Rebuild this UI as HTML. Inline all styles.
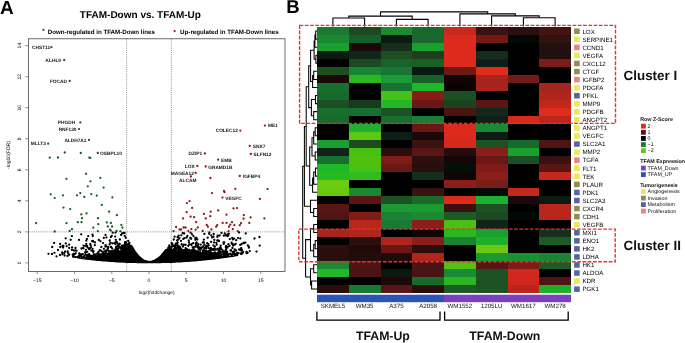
<!DOCTYPE html>
<html><head><meta charset="utf-8"><title>TFAM-Down vs. TFAM-Up</title>
<style>
html,body{margin:0;padding:0;background:#fff;}
body{width:685px;height:343px;overflow:hidden;}
svg{display:block;font-family:"Liberation Sans", Arial, Helvetica, sans-serif;text-rendering:geometricPrecision;}
</style></head><body>
<svg width="685" height="343" viewBox="0 0 685 343">
<rect x="0" y="0" width="685" height="343" fill="#fff"/>
<text x="0" y="14" font-size="19" font-weight="bold">A</text>
<text x="286.3" y="13.3" font-size="18.6" font-weight="bold">B</text>
<text x="140.4" y="18" font-size="10" font-weight="bold" text-anchor="middle">TFAM-Down vs. TFAM-Up</text>
<circle cx="43.4" cy="29.8" r="1.1" fill="#0f5f26"/>
<text x="47.7" y="33.6" font-size="6.2" font-weight="bold">Down-regulated in TFAM-Down lines</text>
<circle cx="174.6" cy="31.1" r="1.1" fill="#8c1a1a"/>
<text x="180.1" y="33.6" font-size="6.2" font-weight="bold">Up-regulated in TFAM-Down lines</text>
<rect x="28.4" y="38.8" width="256.6" height="232.7" fill="none" stroke="#3a3a3a" stroke-width="0.75"/>
<g stroke="#333" stroke-width="0.6" stroke-dasharray="0.8 1.1" fill="none">
<line x1="126.65" y1="38.8" x2="126.65" y2="271.5"/>
<line x1="171.35" y1="38.8" x2="171.35" y2="271.5"/>
<line x1="28.4" y1="231.86" x2="285.0" y2="231.86"/>
</g>
<g stroke="#444" stroke-width="0.6" fill="none">
<line x1="37.25" y1="271.5" x2="37.25" y2="274.1"/>
<line x1="74.50" y1="271.5" x2="74.50" y2="274.1"/>
<line x1="111.75" y1="271.5" x2="111.75" y2="274.1"/>
<line x1="149.00" y1="271.5" x2="149.00" y2="274.1"/>
<line x1="186.25" y1="271.5" x2="186.25" y2="274.1"/>
<line x1="223.50" y1="271.5" x2="223.50" y2="274.1"/>
<line x1="260.75" y1="271.5" x2="260.75" y2="274.1"/>
<line x1="28.4" y1="262.90" x2="25.2" y2="262.90"/>
<line x1="28.4" y1="231.86" x2="25.2" y2="231.86"/>
<line x1="28.4" y1="200.82" x2="25.2" y2="200.82"/>
<line x1="28.4" y1="169.78" x2="25.2" y2="169.78"/>
<line x1="28.4" y1="138.74" x2="25.2" y2="138.74"/>
<line x1="28.4" y1="107.70" x2="25.2" y2="107.70"/>
<line x1="28.4" y1="76.66" x2="25.2" y2="76.66"/>
<line x1="28.4" y1="45.62" x2="25.2" y2="45.62"/>
</g>
<g font-size="5" fill="#000" text-anchor="middle">
<text x="37.25" y="282.3">−15</text>
<text x="74.50" y="282.3">−10</text>
<text x="111.75" y="282.3">−5</text>
<text x="149.00" y="282.3">0</text>
<text x="186.25" y="282.3">5</text>
<text x="223.50" y="282.3">10</text>
<text x="260.75" y="282.3">15</text>
<text transform="translate(20.6 262.90) rotate(-90)">0</text>
<text transform="translate(20.6 231.86) rotate(-90)">2</text>
<text transform="translate(20.6 200.82) rotate(-90)">4</text>
<text transform="translate(20.6 169.78) rotate(-90)">6</text>
<text transform="translate(20.6 138.74) rotate(-90)">8</text>
<text transform="translate(20.6 107.70) rotate(-90)">10</text>
<text transform="translate(20.6 76.66) rotate(-90)">12</text>
<text transform="translate(20.6 45.62) rotate(-90)">14</text>
<text x="156.6" y="294.0" font-size="4.82">log2(foldchange)</text>
<text transform="translate(10.2 155) rotate(-90)" font-size="5.05">-log10(FDR)</text>
</g>
<path d="M149.0 263.3L148.0 263.3L147.0 263.3L146.0 263.3L145.0 263.3L144.0 263.3L143.0 263.3L142.0 263.3L141.0 263.2L140.0 263.2L139.0 263.2L138.0 263.2L137.0 263.2L136.0 263.1L135.0 263.1L134.0 263.1L133.0 263.1L132.0 263.0L131.0 263.0L130.0 263.0L129.0 262.9L128.0 262.9L127.0 262.9L126.0 262.8L125.0 262.8L124.0 262.7L123.0 262.7L122.0 262.6L121.0 262.6L120.0 262.5L119.0 262.5L118.0 262.4L117.0 262.4L116.0 262.3L115.0 262.2L114.0 262.2L113.0 262.1L112.0 262.1L111.0 262.0L110.0 261.9L109.0 261.8L108.0 261.8L107.0 261.7L106.0 261.6L105.0 261.5L104.0 261.5L103.0 261.4L102.0 261.3L101.0 261.2L100.0 261.1L99.0 261.0L98.0 260.9L97.0 260.8L96.0 260.7L95.0 260.6L94.0 260.5L93.0 260.4L92.0 260.3L91.0 260.2L90.0 260.1L89.0 260.0L88.0 259.9L87.0 259.8L86.0 259.7L85.0 259.6L84.0 259.5L83.0 259.3L82.0 259.2L81.0 259.1L80.0 259.0L79.0 258.8L79.0 257.7L80.0 257.8L81.0 257.9L82.0 258.1L83.0 258.2L84.0 258.3L85.0 258.4L86.0 258.5L87.0 258.7L88.0 258.7L89.0 258.6L90.0 258.5L91.0 258.4L92.0 258.2L93.0 258.1L94.0 258.0L95.0 257.8L96.0 257.7L97.0 257.5L98.0 257.2L99.0 256.9L100.0 256.7L101.0 256.4L102.0 256.1L103.0 255.8L104.0 255.5L105.0 255.3L106.0 255.0L107.0 254.7L108.0 254.4L109.0 254.1L110.0 253.8L111.0 253.5L112.0 253.2L113.0 252.9L114.0 252.6L115.0 252.2L116.0 251.9L117.0 251.5L118.0 251.1L119.0 250.7L120.0 250.3L121.0 249.9L122.0 249.5L123.0 248.9L124.0 248.3L125.0 247.7L126.0 247.1L127.0 246.5L128.0 245.9L129.0 245.3L130.0 245.3L131.0 245.3L132.0 245.2L133.0 246.5L134.0 248.3L135.0 249.9L136.0 251.4L137.0 252.8L138.0 254.1L139.0 255.3L140.0 256.3L141.0 257.3L142.0 258.1L143.0 258.8L144.0 259.5L145.0 260.0L146.0 260.3L147.0 260.6L148.0 260.8L149.0 260.9ZM149.0 263.3L150.0 263.3L151.0 263.3L152.0 263.3L153.0 263.3L154.0 263.3L155.0 263.3L156.0 263.3L157.0 263.2L158.0 263.2L159.0 263.2L160.0 263.2L161.0 263.2L162.0 263.1L163.0 263.1L164.0 263.1L165.0 263.1L166.0 263.0L167.0 263.0L168.0 263.0L169.0 262.9L170.0 262.9L171.0 262.9L172.0 262.8L173.0 262.8L174.0 262.7L175.0 262.7L176.0 262.6L177.0 262.6L178.0 262.5L179.0 262.5L180.0 262.4L181.0 262.4L182.0 262.3L183.0 262.2L184.0 262.2L185.0 262.1L186.0 262.1L187.0 262.0L188.0 261.9L189.0 261.8L190.0 261.8L191.0 261.7L192.0 261.6L193.0 261.5L194.0 261.5L195.0 261.4L196.0 261.3L197.0 261.2L198.0 261.1L199.0 261.0L200.0 260.9L201.0 260.8L202.0 260.7L203.0 260.6L204.0 260.5L205.0 260.4L206.0 260.3L207.0 260.2L208.0 260.1L209.0 260.0L210.0 259.9L211.0 259.8L212.0 259.7L213.0 259.6L214.0 259.5L215.0 259.3L216.0 259.2L217.0 259.1L218.0 259.0L219.0 258.8L220.0 258.7L221.0 258.6L222.0 258.5L223.0 258.3L224.0 258.2L225.0 258.0L226.0 257.9L227.0 257.8L228.0 257.6L229.0 257.5L230.0 257.3L231.0 257.2L232.0 257.0L233.0 256.9L234.0 256.7L234.0 255.6L233.0 255.7L232.0 255.9L231.0 256.0L230.0 256.1L229.0 256.0L228.0 256.0L227.0 256.0L226.0 255.9L225.0 255.9L224.0 255.8L223.0 255.7L222.0 255.6L221.0 255.5L220.0 255.5L219.0 255.4L218.0 255.3L217.0 255.2L216.0 255.1L215.0 255.1L214.0 255.0L213.0 255.0L212.0 255.0L211.0 255.0L210.0 255.0L209.0 255.0L208.0 254.9L207.0 254.9L206.0 254.9L205.0 254.8L204.0 254.8L203.0 254.8L202.0 254.8L201.0 254.7L200.0 254.7L199.0 254.6L198.0 254.6L197.0 254.6L196.0 254.4L195.0 254.3L194.0 254.2L193.0 254.0L192.0 253.9L191.0 253.7L190.0 253.6L189.0 253.4L188.0 253.3L187.0 253.1L186.0 253.0L185.0 252.8L184.0 252.7L183.0 252.5L182.0 252.4L181.0 252.2L180.0 252.0L179.0 251.7L178.0 251.5L177.0 251.2L176.0 251.0L175.0 250.7L174.0 250.4L173.0 250.1L172.0 249.7L171.0 249.4L170.0 249.1L169.0 248.8L168.0 248.8L167.0 248.8L166.0 248.8L165.0 249.4L164.0 250.7L163.0 252.0L162.0 253.3L161.0 254.4L160.0 255.4L159.0 256.4L158.0 257.2L157.0 258.0L156.0 258.6L155.0 259.2L154.0 259.7L153.0 260.1L152.0 260.4L151.0 260.7L150.0 260.8L149.0 260.9Z" fill="#000"/>
<path d="M114.7 255.9h0M110.2 258.8h0M135.9 254.4h0M118.3 256.4h0M90.9 256.9h0M78.1 256.8h0M131.2 257.9h0M119.5 247.2h0M133.0 255.9h0M121.1 261.3h0M126.9 256.2h0M143.4 262.1h0M112.2 248.5h0M125.0 244.0h0M119.4 252.5h0M110.3 253.3h0M128.1 254.8h0M131.0 257.5h0M117.9 253.1h0M121.5 247.2h0M129.6 261.7h0M130.7 245.7h0M134.5 257.8h0M115.2 236.6h0M90.3 244.0h0M120.3 257.0h0M121.6 256.4h0M74.8 254.1h0M93.1 251.2h0M131.9 260.2h0M115.9 250.8h0M118.3 244.3h0M112.2 260.3h0M112.2 259.1h0M121.9 255.9h0M117.9 245.7h0M95.5 259.4h0M144.6 261.4h0M80.8 256.4h0M110.8 257.3h0M97.1 259.6h0M122.3 259.0h0M133.4 253.3h0M116.7 241.9h0M99.6 255.9h0M101.4 251.0h0M97.5 258.9h0M115.5 232.6h0M118.3 248.6h0M122.6 252.5h0M128.9 249.1h0M118.7 259.6h0M131.9 254.8h0M128.6 258.7h0M126.1 252.5h0M98.8 239.9h0M100.5 241.3h0M137.1 259.6h0M85.3 258.1h0M98.6 251.9h0M116.4 260.4h0M125.0 260.5h0M125.3 247.5h0M134.0 260.2h0M114.1 254.7h0M131.1 261.8h0M127.0 249.6h0M128.5 249.4h0M113.1 251.7h0M119.8 261.2h0M69.2 247.9h0M120.9 258.6h0M124.2 247.4h0M123.0 256.3h0M136.4 255.6h0M134.0 255.0h0M90.9 256.9h0M71.8 249.8h0M100.1 254.5h0M128.1 257.4h0M125.5 247.9h0M98.8 256.2h0M103.4 257.1h0M94.9 258.1h0M94.8 257.6h0M126.9 252.8h0M115.2 259.9h0M102.1 254.1h0M115.9 261.1h0M135.0 254.2h0M146.6 262.1h0M123.2 256.5h0M106.0 252.4h0M117.2 259.6h0M73.2 256.7h0M125.0 258.0h0M114.2 252.9h0M116.4 254.0h0M133.7 261.0h0M137.1 260.9h0M127.3 250.9h0M83.5 257.2h0M130.9 261.8h0M118.9 254.0h0M96.2 255.9h0M124.2 245.9h0M132.6 256.6h0M114.4 243.3h0M114.2 254.6h0M81.4 254.4h0M107.8 259.5h0M115.8 239.8h0M111.3 258.9h0M106.6 260.1h0M120.9 253.8h0M120.7 248.6h0M103.8 254.0h0M81.9 257.5h0M122.5 258.1h0M124.2 256.9h0M81.6 257.0h0M117.2 261.0h0M101.7 259.6h0M126.5 256.5h0M135.3 261.4h0M73.0 256.5h0M97.4 257.7h0M88.9 248.9h0M63.4 245.9h0M121.1 247.1h0M100.3 257.0h0M94.2 254.3h0M112.4 243.3h0M122.1 260.2h0M129.8 259.0h0M106.9 256.5h0M121.9 249.5h0M121.8 257.3h0M131.1 253.8h0M77.2 257.0h0M120.8 247.4h0M118.7 252.5h0M112.9 256.2h0M125.9 242.2h0M73.6 250.3h0M87.2 251.8h0M96.7 259.1h0M109.7 240.5h0M92.8 241.0h0M62.4 254.3h0M74.9 250.5h0M73.0 255.4h0M113.1 252.8h0M122.6 247.2h0M110.4 242.7h0M103.1 243.1h0M118.5 250.9h0M135.9 257.5h0M105.9 250.7h0M125.5 244.2h0M86.9 258.2h0M102.4 258.1h0M129.5 251.5h0M127.3 247.2h0M130.9 251.0h0M129.1 255.6h0M81.5 256.6h0M128.2 244.8h0M136.1 256.7h0M137.7 258.6h0M142.4 261.7h0M131.0 252.8h0M101.3 247.0h0M123.2 248.3h0M125.5 251.1h0M130.6 249.7h0M108.1 246.9h0M111.8 252.6h0M118.9 253.3h0M132.1 249.9h0M116.1 247.9h0M117.5 259.0h0M125.0 257.3h0M129.7 257.9h0M128.0 251.4h0M66.7 246.2h0M123.1 257.8h0M119.2 258.3h0M91.3 250.6h0M111.1 246.8h0M116.1 256.5h0M110.8 253.8h0M119.2 254.6h0M101.5 256.3h0M141.4 261.7h0M91.4 258.9h0M134.3 261.0h0M114.4 254.8h0M132.3 251.7h0M102.4 253.7h0M131.6 251.8h0M117.3 249.6h0M101.6 257.2h0M136.9 255.9h0M122.1 258.3h0M125.0 242.2h0M105.7 257.9h0M107.5 254.8h0M109.5 260.2h0M126.4 251.5h0M87.4 254.8h0M129.4 243.0h0M84.3 255.8h0M86.5 257.1h0M107.9 248.6h0M87.6 247.4h0M110.5 251.2h0M90.6 245.2h0M124.1 249.7h0M116.9 255.5h0M117.0 250.7h0M87.2 255.9h0M106.6 253.7h0M129.1 243.5h0M126.5 250.6h0M113.2 259.0h0M121.8 245.7h0M132.4 257.1h0M135.0 261.7h0M124.8 235.9h0M110.2 255.7h0M131.8 260.9h0M125.2 253.1h0M103.0 252.4h0M137.9 261.4h0M95.9 255.8h0M112.0 253.6h0M120.9 259.1h0M110.6 260.4h0M105.5 255.6h0M123.5 254.8h0M98.5 252.3h0M123.7 255.7h0M136.0 256.8h0M88.5 256.9h0M123.4 233.2h0M127.6 247.3h0M83.5 245.6h0M114.1 258.6h0M106.4 259.1h0M138.2 259.0h0M89.2 257.0h0M97.8 257.9h0M133.6 250.6h0M119.9 252.5h0M94.8 245.2h0M121.7 254.6h0M90.1 257.2h0M114.7 251.8h0M81.2 256.3h0M117.7 254.1h0M127.1 258.3h0M132.6 260.0h0M117.9 253.4h0M91.2 255.9h0M79.4 256.0h0M117.4 258.9h0M131.6 256.1h0M98.1 254.7h0M106.2 253.6h0M132.7 252.9h0M73.7 254.9h0M105.3 246.6h0M133.0 250.2h0M128.0 254.3h0M112.0 255.4h0M124.4 254.9h0M83.4 248.3h0M129.5 252.6h0M110.6 253.2h0M122.4 249.5h0M87.9 257.2h0M112.2 256.2h0M130.9 251.2h0M102.5 256.5h0M120.7 254.5h0M115.6 256.0h0M120.9 253.2h0M125.3 258.4h0M110.9 237.0h0M60.1 243.9h0M104.1 258.2h0M112.8 254.5h0M119.0 254.7h0M72.7 254.7h0M111.3 255.3h0M130.4 249.8h0M137.7 256.8h0M135.4 258.3h0M134.8 261.5h0M87.0 245.8h0M99.8 258.5h0M108.4 257.1h0M135.6 255.2h0M102.4 257.9h0M124.8 248.3h0M121.1 256.2h0M64.3 253.0h0M91.1 247.1h0M67.5 255.9h0M117.1 249.4h0M105.3 259.7h0M92.6 255.7h0M130.3 246.9h0M126.8 252.9h0M133.9 258.1h0M112.7 232.7h0M133.8 258.6h0M125.3 259.4h0M93.6 255.6h0M125.8 248.6h0M60.3 247.0h0M102.5 256.2h0M73.6 253.8h0M98.2 253.9h0M102.3 256.1h0M90.2 256.6h0M93.4 251.2h0M94.4 258.6h0M129.7 254.1h0M134.1 255.4h0M106.4 237.4h0M78.1 256.8h0M133.2 257.3h0M105.8 258.7h0M135.5 254.4h0M120.8 260.2h0M105.9 246.2h0M102.7 254.2h0M131.9 249.3h0M117.1 252.5h0M72.1 247.5h0M75.2 257.1h0M133.2 250.5h0M121.6 259.6h0M131.8 258.8h0M89.6 257.2h0M124.5 258.4h0M89.1 254.2h0M123.5 252.8h0M92.5 234.6h0M139.6 260.4h0M125.5 250.8h0M81.5 248.5h0M83.3 248.0h0M102.6 257.3h0M67.6 251.5h0M131.1 256.0h0M103.9 248.8h0M135.3 255.4h0M113.1 252.5h0M114.9 255.2h0M112.8 254.6h0M88.1 258.4h0M122.6 258.1h0M124.9 259.2h0M111.2 253.3h0M127.6 251.5h0M127.0 260.9h0M121.5 252.1h0M123.9 252.9h0M102.1 257.2h0M127.9 256.3h0M125.8 258.8h0M115.5 244.0h0M133.7 256.2h0M88.3 258.6h0M129.7 257.9h0M121.4 248.9h0M133.4 254.2h0M103.0 253.7h0M108.1 257.5h0M135.8 261.3h0M82.2 254.3h0M130.4 255.7h0M111.8 235.8h0M92.8 236.1h0M130.4 248.8h0M65.7 238.3h0M109.1 251.6h0M98.9 255.8h0M129.4 257.2h0M136.3 255.7h0M113.3 255.4h0M124.4 245.8h0M115.7 260.2h0M142.2 261.8h0M127.2 244.5h0M73.4 256.9h0M115.8 241.8h0M120.3 256.4h0M132.2 256.8h0M91.4 258.6h0M85.0 252.3h0M116.6 250.2h0M103.5 254.6h0M113.5 257.5h0M106.8 253.8h0M113.5 252.0h0M125.4 248.0h0M103.3 255.0h0M97.7 255.4h0M77.8 257.4h0M127.0 253.8h0M75.5 248.0h0M110.8 259.7h0M129.6 256.4h0M85.9 249.8h0M107.7 247.7h0M114.9 259.9h0M136.0 254.8h0M86.8 245.8h0M126.5 261.6h0M89.3 249.2h0M110.7 247.1h0M106.0 252.6h0M128.1 255.9h0M115.7 242.4h0M84.1 257.2h0M93.8 258.8h0M113.1 260.1h0M82.8 254.1h0M118.0 251.8h0M125.2 254.2h0M95.0 242.4h0M102.6 260.1h0M129.0 258.4h0M95.0 254.4h0M128.9 245.6h0M127.9 260.4h0M109.6 244.4h0M122.5 251.3h0M126.8 260.5h0M107.4 250.0h0M99.2 255.4h0M79.3 257.0h0M109.9 254.7h0M119.4 257.6h0M127.5 246.8h0M119.7 256.2h0M104.9 259.2h0M73.1 256.3h0M125.4 258.9h0M128.4 244.2h0M123.5 233.0h0M138.4 259.9h0M119.9 239.5h0M89.8 256.3h0M130.9 256.6h0M126.5 250.2h0M116.9 252.1h0M108.7 260.2h0M124.8 253.0h0M120.8 247.9h0M135.5 257.4h0M130.5 259.3h0M127.5 250.3h0M139.1 260.2h0M86.9 238.9h0M132.5 257.4h0M63.1 247.6h0M131.8 259.4h0M105.6 245.2h0M112.9 252.7h0M108.2 250.7h0M121.8 252.7h0M105.4 253.7h0M125.5 248.9h0M110.2 257.1h0M104.7 254.5h0M92.0 241.1h0M124.3 255.3h0M124.6 232.9h0M117.0 253.3h0M125.9 245.6h0M116.1 249.5h0M133.3 258.6h0M115.0 254.3h0M116.3 260.7h0M126.5 257.7h0M136.3 255.9h0M114.1 256.5h0M136.5 256.9h0M105.5 234.9h0M117.1 242.7h0M97.1 257.0h0M71.9 236.1h0M62.6 246.0h0M104.5 251.3h0M114.2 250.4h0M104.7 259.2h0M131.2 250.2h0M136.5 254.9h0M139.4 261.5h0M110.1 252.6h0M118.7 245.5h0M100.3 255.1h0M136.1 254.2h0M131.5 255.3h0M126.3 250.4h0M120.2 256.8h0M93.2 252.3h0M103.1 257.9h0M118.1 251.8h0M79.7 253.9h0M131.6 253.1h0M69.1 244.7h0M117.5 257.8h0M120.1 258.4h0M122.7 255.9h0M99.4 258.5h0M115.3 256.3h0M131.5 248.2h0M88.3 254.8h0M112.6 255.7h0M116.7 258.3h0M143.5 261.8h0M133.2 250.4h0M80.2 256.3h0M114.9 252.2h0M112.4 256.6h0M99.8 250.2h0M97.2 253.7h0M137.2 261.8h0M114.1 250.7h0M122.1 260.6h0M112.1 256.0h0M102.4 253.9h0M86.3 244.0h0M135.0 253.3h0M130.5 261.7h0M85.5 246.1h0M114.6 250.3h0M131.8 248.2h0M104.1 254.0h0M127.4 250.0h0M78.0 257.5h0M121.1 234.9h0M122.5 250.6h0M95.9 258.3h0M92.6 258.6h0M112.0 258.6h0M65.1 251.6h0M125.0 250.6h0M116.0 257.0h0M130.8 252.9h0M65.8 243.4h0M135.6 258.2h0M79.2 253.3h0M96.6 259.4h0M108.5 253.7h0M121.4 253.2h0M70.7 239.8h0M89.5 254.9h0M130.8 250.1h0M124.2 248.6h0M131.0 253.6h0M86.3 240.6h0M92.6 248.8h0M97.7 257.4h0M64.6 255.5h0M127.1 249.2h0M113.6 259.8h0M87.3 256.4h0M109.9 251.4h0M99.3 256.2h0M101.2 256.5h0M124.9 260.0h0M91.8 255.8h0M75.7 253.2h0M85.5 254.5h0M147.9 261.8h0M121.2 252.5h0M94.2 255.5h0M79.8 255.1h0M111.3 252.2h0M82.1 257.2h0M132.0 249.5h0M126.0 252.9h0M97.3 259.6h0M68.2 253.2h0M96.0 258.4h0M129.7 250.5h0M99.8 258.4h0M96.8 256.9h0M79.3 255.5h0M116.6 258.3h0M90.5 258.3h0M110.7 258.2h0M121.6 253.9h0M119.7 243.9h0M110.9 258.3h0M110.4 251.4h0M54.1 242.9h0M141.1 259.5h0M130.1 250.3h0M114.3 258.4h0M134.0 257.0h0M133.5 253.1h0M117.2 246.5h0M137.1 257.0h0M124.2 253.2h0M122.3 254.4h0M104.0 255.3h0M119.9 257.2h0M90.2 247.9h0M127.5 255.4h0M95.4 258.1h0M112.2 251.2h0M127.8 260.6h0M79.0 239.9h0M125.8 237.8h0M145.6 261.7h0M125.1 257.1h0M138.6 258.9h0M129.2 250.4h0M125.3 245.2h0M127.1 259.5h0M94.2 258.0h0M131.9 251.2h0M127.7 260.5h0M111.1 258.0h0M131.0 250.9h0M128.2 240.9h0M127.1 253.8h0M88.2 236.1h0M127.2 245.8h0M122.0 233.5h0M115.3 243.2h0M123.5 245.4h0M116.1 246.8h0M129.5 258.0h0M116.8 258.9h0M95.7 259.0h0M139.4 257.9h0M62.1 252.5h0M69.1 254.7h0M119.6 243.8h0M126.8 244.4h0M115.8 249.1h0M130.4 249.3h0M127.7 250.2h0M98.5 255.3h0M114.2 260.2h0M132.1 257.1h0M113.3 259.6h0M127.9 252.3h0M76.5 250.7h0M81.2 234.3h0M125.6 251.0h0M108.0 254.9h0M85.7 252.1h0M92.4 256.7h0M133.6 254.5h0M103.8 237.9h0M104.6 259.6h0M93.2 241.5h0M106.1 257.3h0M209.9 255.7h0M167.9 249.9h0M165.1 259.1h0M199.5 255.6h0M179.2 255.4h0M197.4 251.7h0M182.7 233.0h0M196.0 258.1h0M173.7 254.2h0M205.1 253.6h0M172.6 257.5h0M179.8 259.0h0M235.7 243.8h0M197.8 255.7h0M177.6 252.5h0M195.9 250.8h0M241.6 253.8h0M233.5 253.7h0M193.5 259.4h0M210.7 255.6h0M198.6 258.9h0M216.3 255.2h0M173.8 239.5h0M202.7 246.9h0M223.8 235.7h0M179.6 251.3h0M156.7 261.2h0M182.5 256.6h0M164.1 256.3h0M234.8 244.5h0M188.4 253.2h0M206.4 246.0h0M205.9 247.1h0M201.7 256.5h0M214.3 257.1h0M179.3 261.2h0M211.1 252.4h0M184.1 252.1h0M189.6 259.6h0M245.7 233.4h0M182.5 252.6h0M167.6 252.0h0M165.2 260.4h0M227.2 252.0h0M221.2 255.2h0M171.7 249.6h0M169.3 245.5h0M201.5 253.3h0M222.2 249.8h0M181.7 250.0h0M191.5 245.0h0M181.6 244.6h0M177.4 252.9h0M232.5 251.8h0M212.0 258.0h0M197.4 254.6h0M172.7 260.7h0M198.2 244.2h0M206.0 250.6h0M192.3 254.8h0M243.6 243.0h0M223.6 242.3h0M178.2 259.8h0M227.6 234.3h0M169.9 258.5h0M207.8 255.4h0M245.3 242.7h0M221.0 254.2h0M207.9 257.5h0M219.3 253.7h0M246.4 252.0h0M198.3 255.1h0M215.8 249.8h0M204.4 244.7h0M170.3 250.9h0M213.4 254.3h0M193.9 255.1h0M172.4 243.9h0M167.4 252.0h0M158.4 261.4h0M192.7 252.8h0M195.3 239.8h0M176.7 247.7h0M203.4 251.4h0M229.8 239.1h0M244.4 243.0h0M181.1 254.9h0M193.7 258.1h0M197.0 259.0h0M206.6 257.3h0M178.3 248.4h0M180.3 255.4h0M216.6 255.2h0M173.1 252.1h0M232.9 239.4h0M191.2 238.8h0M196.0 243.1h0M193.3 256.5h0M172.0 260.6h0M235.0 254.6h0M199.9 253.4h0M239.1 232.5h0M184.7 260.4h0M164.7 257.7h0M175.0 246.6h0M223.1 252.6h0M211.9 255.8h0M203.8 249.5h0M189.7 255.9h0M196.2 254.8h0M171.9 252.0h0M248.9 247.7h0M218.7 254.0h0M184.2 260.5h0M226.4 255.3h0M205.5 250.9h0M175.4 244.9h0M174.6 236.7h0M176.9 245.2h0M189.0 242.3h0M247.8 245.4h0M171.1 257.0h0M177.8 255.9h0M195.8 255.0h0M165.6 254.1h0M209.4 232.4h0M208.4 251.7h0M210.6 248.7h0M214.3 239.8h0M208.4 244.2h0M189.2 260.0h0M210.1 254.1h0M248.7 246.3h0M176.6 251.2h0M195.8 244.9h0M179.9 257.6h0M177.4 254.9h0M183.0 253.8h0M188.8 260.6h0M208.6 257.9h0M187.0 252.9h0M208.8 253.1h0M181.1 248.6h0M169.0 254.5h0M179.7 259.9h0M210.9 254.8h0M189.0 253.1h0M172.3 261.5h0M156.8 260.2h0M215.6 256.1h0M237.3 255.0h0M168.3 247.7h0M195.7 251.5h0M211.0 255.2h0M225.7 250.2h0M214.3 256.8h0M231.6 242.6h0M191.1 259.7h0M191.6 244.1h0M220.8 255.5h0M223.6 251.5h0M169.9 258.1h0M196.7 242.4h0M175.1 249.8h0M220.2 249.3h0M212.6 258.1h0M185.6 248.1h0M210.2 249.0h0M195.2 246.8h0M165.5 255.5h0M171.8 254.5h0M182.7 257.6h0M173.3 256.4h0M218.2 254.2h0M192.7 247.4h0M209.8 254.8h0M180.8 255.5h0M172.1 261.4h0M186.0 252.6h0M198.6 255.4h0M177.3 257.7h0M199.1 249.2h0M181.7 251.9h0M196.6 257.6h0M232.2 237.9h0M178.8 251.5h0M190.6 237.9h0M217.5 253.1h0M241.2 248.1h0M158.3 259.4h0M171.6 242.8h0M187.0 251.0h0M197.4 259.9h0M221.3 256.2h0M214.2 255.3h0M193.2 243.1h0M177.8 255.9h0M242.1 253.4h0M163.9 254.9h0M223.4 254.6h0M176.6 248.8h0M219.0 241.0h0M190.7 255.9h0M221.8 251.8h0M256.5 251.6h0M167.4 252.5h0M195.5 254.3h0M203.6 256.6h0M217.2 255.1h0M168.2 252.3h0M236.2 250.4h0M220.0 253.8h0M217.4 236.9h0M217.5 256.5h0M190.7 253.4h0M163.1 255.1h0M193.5 253.8h0M189.9 259.3h0M170.2 250.2h0M178.7 235.6h0M184.5 238.2h0M190.1 253.8h0M220.7 245.6h0M219.1 255.7h0M206.4 252.8h0M183.3 251.5h0M233.2 245.2h0M218.2 256.7h0M213.5 236.7h0M164.1 256.1h0M166.4 253.8h0M170.3 259.5h0M171.1 261.4h0M242.3 251.7h0M165.2 258.0h0M246.8 252.1h0M203.2 250.5h0M187.1 256.4h0M175.3 258.3h0M200.6 249.3h0M181.7 257.3h0M214.9 252.3h0M178.3 252.9h0M184.6 257.5h0M211.1 241.9h0M171.1 252.5h0M226.2 249.0h0M188.8 255.1h0M213.7 249.1h0M186.7 250.7h0M170.9 256.1h0M198.7 258.7h0M203.9 257.6h0M202.3 258.8h0M184.8 256.5h0M207.2 243.2h0M236.2 240.2h0M200.2 254.7h0M197.7 260.0h0M223.7 243.9h0M220.5 247.4h0M206.7 252.0h0M171.0 253.6h0M171.5 254.0h0M177.8 247.2h0M164.5 254.9h0M197.3 252.8h0M173.2 260.0h0M178.6 255.3h0M188.1 252.9h0M175.0 245.7h0M232.7 244.1h0M178.2 249.6h0M208.3 251.2h0M212.8 253.5h0M181.3 235.3h0M217.6 256.2h0M171.6 257.7h0M156.1 261.8h0M185.2 252.8h0M239.1 249.5h0M171.2 258.8h0M234.7 249.4h0M220.1 251.7h0M165.2 258.8h0M166.9 250.6h0M186.1 254.1h0M240.9 248.8h0M203.1 252.5h0M170.8 256.1h0M161.8 257.5h0M193.4 247.3h0M169.4 253.5h0M198.7 259.4h0M186.6 257.3h0M178.4 245.6h0M219.0 257.1h0M207.7 254.8h0M215.8 249.1h0M184.2 259.8h0M164.3 254.9h0M198.7 252.8h0M180.7 259.1h0M197.4 247.2h0M201.1 247.9h0M204.9 247.6h0M228.4 234.9h0M200.8 259.6h0M194.2 249.3h0M165.5 254.9h0M185.0 254.5h0M215.7 254.7h0M166.2 259.3h0M205.7 252.8h0M179.5 238.1h0M184.2 233.5h0M207.8 245.8h0M216.1 253.7h0M198.6 247.7h0M172.6 255.3h0M174.7 251.4h0M173.2 252.8h0M200.6 244.6h0M184.0 244.6h0M196.5 256.2h0M201.5 257.8h0M192.2 260.1h0M162.0 259.8h0M173.4 253.9h0M180.6 248.8h0M176.2 256.9h0M228.4 244.2h0M196.6 245.3h0M177.4 253.4h0M181.3 250.4h0M203.8 254.0h0M182.7 257.9h0M171.1 257.2h0M230.3 253.6h0M198.9 253.0h0M185.6 252.4h0M228.3 255.3h0M219.4 251.1h0M170.6 259.1h0M240.2 244.9h0M204.4 233.9h0M225.1 252.7h0M166.8 259.1h0M241.7 244.0h0M233.1 245.6h0M208.4 248.0h0M201.4 248.2h0M202.8 242.5h0M194.7 254.2h0M204.5 254.4h0M223.6 253.5h0M195.4 254.5h0M180.7 259.4h0M226.2 253.4h0M165.4 254.2h0M195.0 252.5h0M184.5 252.4h0M157.1 260.2h0M196.1 253.3h0M215.9 255.3h0M199.5 254.5h0M201.7 257.8h0M178.7 256.6h0M203.3 254.0h0M212.0 249.9h0M233.8 252.6h0M226.3 255.3h0M210.6 256.5h0M205.5 255.9h0M169.4 247.1h0M230.4 250.6h0M175.8 259.0h0M161.1 257.2h0M164.4 259.9h0M247.0 253.0h0M183.8 254.5h0M163.0 255.3h0M190.6 232.7h0M213.4 245.5h0M165.5 261.4h0M165.2 258.3h0M208.8 252.5h0M169.4 248.7h0M218.6 251.3h0M203.4 258.2h0M190.4 252.5h0M219.5 257.6h0M181.4 259.4h0M170.4 256.1h0M197.7 255.2h0M178.4 239.4h0M227.8 236.1h0M181.5 259.6h0M212.2 237.5h0M173.3 252.9h0M183.0 255.4h0M211.6 254.8h0M180.0 260.4h0M184.5 254.4h0M210.5 257.1h0M195.5 257.1h0M228.7 254.1h0M184.3 253.0h0M232.4 254.5h0M217.9 248.8h0M241.9 249.7h0M240.3 238.5h0M174.4 256.8h0M240.9 253.9h0M207.6 258.0h0M226.0 250.6h0M212.2 257.7h0M189.6 255.0h0M166.1 255.2h0M169.7 252.1h0M185.9 260.5h0M189.7 250.7h0M202.3 254.5h0M206.0 248.0h0M243.2 252.1h0M180.6 259.3h0M189.4 244.4h0M175.2 253.3h0M165.5 254.3h0M212.8 257.8h0M224.3 252.0h0M183.3 238.9h0M220.2 253.5h0M226.3 252.3h0M172.7 246.3h0M185.7 244.8h0M225.8 247.1h0M221.1 248.7h0M213.8 253.9h0M210.0 250.5h0M213.2 258.0h0M207.4 253.9h0M214.9 252.3h0M193.4 259.3h0M219.2 257.0h0M164.1 257.5h0M182.8 250.3h0M195.7 258.1h0M173.5 249.7h0M221.5 232.9h0M222.8 252.4h0M158.2 258.9h0M195.0 253.2h0M168.2 256.5h0M187.3 236.0h0M173.0 245.6h0M190.3 238.0h0M232.4 248.0h0M174.5 250.4h0M179.4 257.2h0M192.8 251.5h0M181.4 259.9h0M221.0 256.5h0M200.3 252.3h0M203.9 256.5h0M179.3 254.5h0M181.7 256.8h0M197.6 259.4h0M225.8 255.7h0M174.5 261.4h0M187.3 249.4h0M231.5 255.6h0M246.6 253.2h0M184.4 256.7h0M164.2 261.5h0M193.5 236.1h0M203.6 256.3h0M242.9 252.7h0M216.1 254.7h0M211.1 235.3h0M204.6 255.6h0M236.1 255.2h0M187.3 260.7h0M214.6 257.5h0M152.4 261.9h0M173.6 254.9h0M197.7 253.3h0M175.4 253.0h0M210.8 253.4h0M172.9 249.9h0M181.8 253.9h0M234.6 255.5h0M169.3 250.1h0M187.0 249.7h0M180.9 256.6h0M192.3 254.6h0M192.1 234.3h0M196.3 257.4h0M183.6 253.2h0M169.3 260.6h0M201.5 256.7h0M165.7 261.0h0M161.2 261.9h0M214.1 248.6h0M212.4 256.9h0M160.6 257.6h0M234.7 254.5h0M238.6 253.1h0M180.1 260.3h0M181.9 250.4h0M214.1 242.4h0M184.5 256.1h0M177.6 258.6h0M172.6 256.2h0M199.6 247.5h0M223.5 252.5h0M198.1 251.3h0M194.0 250.8h0M231.6 255.1h0M186.0 255.7h0M169.0 249.4h0M179.2 255.9h0M213.6 249.6h0M224.8 233.4h0M241.4 253.0h0M181.7 244.2h0M195.3 255.4h0M186.2 257.0h0M180.4 252.0h0M179.5 258.5h0M171.6 246.6h0M189.2 257.9h0M237.2 252.9h0M206.5 246.1h0M212.5 254.4h0M195.7 255.5h0M173.8 250.1h0M177.2 252.0h0M164.7 256.7h0M218.3 254.9h0M206.7 254.4h0M168.5 254.2h0M175.6 251.5h0M227.7 247.0h0M210.8 248.0h0M213.7 234.0h0M231.1 254.3h0M238.0 238.1h0M180.9 260.0h0M188.7 240.4h0M185.9 251.8h0M183.6 250.2h0M213.0 253.2h0M198.2 256.4h0M210.9 257.9h0M196.7 253.4h0M169.2 257.8h0M178.1 255.0h0M195.7 254.2h0M168.1 249.2h0M165.7 261.8h0M216.8 256.8h0M169.1 254.2h0M192.4 256.4h0M167.8 251.8h0M173.8 255.2h0M191.2 258.6h0M215.7 258.0h0M213.8 250.0h0M173.5 260.5h0M200.2 250.3h0M164.2 260.5h0M163.5 261.0h0M235.9 253.8h0M249.8 251.1h0M200.8 247.8h0M231.0 250.2h0M201.7 259.1h0M162.8 255.2h0M217.9 240.5h0M188.0 251.9h0M192.1 253.4h0M198.0 246.2h0M232.2 244.0h0M184.6 252.8h0M184.8 258.7h0M195.3 238.0h0M171.4 251.1h0M206.4 255.6h0M219.2 257.6h0M209.1 257.3h0M191.9 252.2h0M187.7 251.7h0M186.7 253.6h0M212.4 256.9h0M229.6 245.8h0M224.1 254.0h0M174.1 248.9h0M201.1 256.1h0M202.9 255.7h0M226.0 235.5h0M197.0 259.5h0M184.1 255.7h0M247.6 252.8h0M216.4 242.8h0M194.0 258.8h0M166.2 260.8h0M178.4 249.6h0M219.4 248.3h0M219.6 235.5h0M170.9 248.3h0M207.7 237.7h0M205.8 256.1h0M186.7 259.0h0M185.7 249.3h0M217.4 253.7h0M177.8 242.6h0M193.3 258.5h0M184.9 249.9h0M176.1 253.7h0M188.6 255.2h0M191.1 254.4h0M204.1 252.7h0M210.7 257.4h0M195.3 258.6h0M177.7 245.9h0M185.6 251.6h0M169.6 256.0h0M198.6 249.2h0M166.6 251.2h0M218.4 250.3h0M169.4 248.7h0M187.9 259.9h0M174.0 251.3h0M242.4 251.4h0M227.5 247.4h0M202.4 258.7h0M191.8 253.4h0M183.1 258.4h0M197.3 239.4h0M186.1 259.0h0M215.3 253.6h0M183.5 259.9h0M179.5 250.2h0M182.2 258.8h0M175.4 258.3h0M177.5 237.1h0M198.5 259.5h0M170.0 247.8h0M180.7 251.8h0M164.6 254.8h0M204.1 255.1h0M202.8 252.4h0M208.5 258.1h0M207.4 254.8h0M195.2 252.3h0M225.8 254.7h0M213.8 258.2h0M179.8 247.0h0M169.8 254.2h0M187.9 255.1h0M218.8 253.2h0M233.8 251.9h0M217.3 240.5h0M188.9 257.4h0M194.0 255.6h0M191.7 250.4h0M159.1 258.5h0M173.5 252.5h0M181.0 240.9h0M171.2 257.2h0M226.1 246.0h0M225.2 255.8h0M176.1 257.6h0M176.8 243.5h0M170.2 256.4h0M187.0 249.5h0M234.4 251.4h0M193.0 252.7h0M174.5 260.7h0M170.5 249.7h0M217.2 257.6h0M188.3 246.0h0M189.1 249.9h0M224.2 242.4h0M186.4 258.8h0M170.2 256.1h0M202.3 258.3h0M181.4 253.4h0M234.1 238.6h0M184.5 255.1h0M215.0 246.6h0M211.1 258.0h0M194.6 257.1h0M199.8 252.9h0M171.9 259.1h0M200.9 254.1h0M165.2 259.9h0M223.5 254.0h0M220.0 253.3h0M172.0 260.9h0M177.9 248.3h0M227.2 254.2h0M187.7 250.0h0M206.0 248.3h0M178.9 247.9h0M193.3 254.6h0M241.2 249.7h0M211.9 248.9h0M180.9 249.8h0M175.8 243.6h0M191.9 253.3h0M172.8 259.4h0M167.6 251.3h0M179.4 259.2h0M174.4 260.2h0M166.5 255.0h0M202.9 251.1h0M201.2 254.1h0M204.5 256.1h0M193.1 247.5h0M240.5 250.2h0M167.6 251.0h0M174.5 255.8h0M193.9 251.5h0M186.5 250.6h0M207.5 258.2h0M162.8 258.6h0M165.8 255.1h0M195.8 243.4h0M159.8 260.0h0M167.4 255.2h0M208.6 245.4h0M178.4 258.3h0M174.0 254.8h0M198.6 252.2h0M158.2 260.0h0M174.6 254.4h0M205.5 256.6h0M192.3 249.8h0M171.8 254.4h0M194.4 255.8h0M174.1 249.8h0M182.9 246.5h0M172.0 244.7h0M227.2 256.2h0M197.2 258.5h0M172.1 255.6h0M217.4 255.3h0M202.5 258.4h0M169.1 248.5h0M175.3 254.3h0M195.4 256.8h0M228.8 233.6h0M176.3 252.0h0M185.7 251.2h0M166.0 252.6h0M163.9 255.7h0M183.6 253.5h0M194.9 257.4h0M188.2 256.4h0M168.8 259.4h0M229.6 254.1h0M210.9 248.2h0M167.0 259.5h0M207.7 257.7h0M194.6 253.6h0M176.1 260.7h0M209.1 233.8h0M181.2 256.9h0M169.9 255.5h0M160.7 257.6h0M172.7 260.9h0M181.4 260.8h0M216.7 254.2h0M189.4 254.0h0M196.0 252.9h0M175.7 259.7h0M176.5 260.7h0M164.6 256.0h0M166.2 254.2h0M174.4 246.2h0M217.6 235.6h0M175.1 248.3h0M167.7 260.3h0M186.7 237.5h0M203.0 246.4h0M190.0 257.1h0M177.5 260.4h0M207.2 254.5h0M208.3 258.8h0M177.1 240.5h0M174.5 250.5h0M216.7 244.7h0M206.8 256.4h0M218.2 254.0h0M173.0 251.4h0M231.8 243.5h0M223.9 256.3h0M208.8 254.1h0M196.5 237.9h0M220.5 256.6h0M203.9 242.4h0M216.5 254.9h0M183.6 258.7h0M195.9 258.6h0M203.8 239.7h0M206.1 254.2h0M186.9 250.5h0M175.0 261.5h0M259.5 237.0h0M259.7 245.6h0M254.5 238.5h0M48.5 253.8h0M52.0 254.0h0M54.5 252.8h0M56.5 256.3h0M52.2 247.0h0M60.0 255.0h0M58.0 250.0h0" stroke="#000" stroke-width="2.3" stroke-linecap="round" fill="none"/>
<path d="M64.7 152.5h0M80.8 153.0h0M49.7 157.7h0M58.0 157.5h0M89.3 157.6h0M90.3 157.9h0M86.0 173.8h0M66.5 178.8h0M100.3 177.8h0M90.5 181.3h0M87.8 186.3h0M103.6 187.6h0M50.7 194.3h0M54.7 198.1h0M63.0 195.3h0M77.0 195.3h0M80.3 193.1h0M84.3 196.9h0M91.3 194.1h0M96.8 195.6h0M112.4 197.4h0M101.8 204.9h0M63.5 207.6h0M70.2 209.1h0M109.1 211.7h0M86.5 213.4h0M81.3 214.4h0M116.9 215.2h0M82.0 218.2h0M98.0 218.2h0M36.1 223.2h0M66.5 223.2h0M77.8 222.2h0M81.5 222.2h0M106.8 222.4h0M110.9 222.9h0M98.3 224.2h0M121.4 224.9h0M93.3 227.7h0M107.8 226.5h0M112.1 226.5h0M122.4 227.7h0M72.0 229.2h0M109.9 229.7h0M54.7 231.5h0M69.7 231.0h0M97.8 231.2h0M116.6 231.0h0M120.4 231.2h0M110.9 230.7h0M51.4 47.2h0M64.2 60.0h0M69.7 81.0h0M80.3 122.4h0M79.0 129.1h0M89.0 139.9h0M48.2 143.7h0M97.8 153.0h0" stroke="#0f5f26" stroke-width="2.3" stroke-linecap="round" fill="none"/>
<path d="M210.4 178.0h0M235.3 188.8h0M224.0 191.0h0M224.5 192.2h0M267.6 189.1h0M212.0 193.1h0M259.9 198.9h0M189.6 201.1h0M186.9 203.1h0M192.1 207.9h0M233.5 208.4h0M237.0 208.1h0M218.2 210.4h0M186.6 212.2h0M210.7 211.7h0M203.9 213.9h0M226.5 214.7h0M243.8 215.2h0M190.6 216.7h0M194.1 217.2h0M210.2 216.2h0M250.6 217.4h0M183.1 218.4h0M205.7 218.4h0M243.6 218.7h0M264.4 218.4h0M196.1 222.2h0M232.0 222.2h0M222.7 222.9h0M226.5 222.9h0M241.0 223.2h0M249.3 222.9h0M206.7 224.9h0M217.2 225.2h0M230.3 224.7h0M234.3 225.2h0M239.8 225.2h0M176.1 227.0h0M183.6 227.5h0M185.6 227.5h0M197.7 227.5h0M207.9 226.7h0M216.2 226.7h0M229.0 226.7h0M179.6 229.5h0M181.1 229.5h0M191.4 229.2h0M195.6 229.7h0M211.4 229.5h0M232.8 229.2h0M173.6 231.2h0M202.7 231.0h0M228.5 231.2h0M237.8 231.2h0M188.4 231.0h0M264.9 125.6h0M240.3 130.6h0M249.8 145.9h0M250.8 154.0h0M204.9 153.5h0M218.2 159.7h0M197.4 166.0h0M205.7 166.5h0M195.6 173.0h0M190.9 176.5h0M239.8 176.0h0M222.5 197.6h0" stroke="#8c1a1a" stroke-width="2.3" stroke-linecap="round" fill="none"/>
<g font-size="4.8" font-weight="bold" fill="#111">
<text x="50.2" y="49.0" text-anchor="end">CHST11</text>
<text x="61.0" y="61.7" text-anchor="end">KLHL9</text>
<text x="67.0" y="82.7" text-anchor="end">FOCAD</text>
<text x="75.2" y="124.1" text-anchor="end">PHGDH</text>
<text x="76.5" y="131.1" text-anchor="end">RNF130</text>
<text x="86.5" y="141.6" text-anchor="end">ALDH7A1</text>
<text x="45.9" y="145.4" text-anchor="end">MLLT3</text>
<text x="100.1" y="154.9">OSBPL10</text>
<text x="267.9" y="127.3">ME1</text>
<text x="237.8" y="132.3" text-anchor="end">COLEC12</text>
<text x="252.8" y="147.6">SNX7</text>
<text x="253.6" y="155.7">SLFN12</text>
<text x="202.2" y="155.2" text-anchor="end">DZIP1</text>
<text x="221.0" y="161.7">EMB</text>
<text x="194.6" y="168.0" text-anchor="end">LOX</text>
<text x="208.2" y="168.5">GRAMD1B</text>
<text x="193.9" y="174.5" text-anchor="end">MAGEA12</text>
<text x="196.4" y="182.0" text-anchor="end">ALCAM</text>
<text x="242.8" y="178.0">IGFBP4</text>
<text x="225.2" y="199.6">VEGFC</text>
</g>
<g shape-rendering="crispEdges">
<rect x="317.00" y="27.00" width="31.80" height="8.11" fill="#1a7a32"/>
<rect x="348.75" y="27.00" width="31.80" height="8.11" fill="#1d4a20"/>
<rect x="380.50" y="27.00" width="31.80" height="8.11" fill="#1e8a30"/>
<rect x="412.25" y="27.00" width="31.80" height="8.11" fill="#176a2c"/>
<rect x="444.00" y="27.00" width="31.80" height="8.11" fill="#c8281e"/>
<rect x="475.75" y="27.00" width="31.80" height="8.11" fill="#3c1210"/>
<rect x="507.50" y="27.00" width="31.80" height="8.11" fill="#2c100e"/>
<rect x="539.25" y="27.00" width="31.80" height="8.11" fill="#461410"/>
<rect x="317.00" y="35.06" width="31.80" height="8.11" fill="#1a8a30"/>
<rect x="348.75" y="35.06" width="31.80" height="8.11" fill="#15602a"/>
<rect x="380.50" y="35.06" width="31.80" height="8.11" fill="#0c1a12"/>
<rect x="412.25" y="35.06" width="31.80" height="8.11" fill="#1a682c"/>
<rect x="444.00" y="35.06" width="31.80" height="8.11" fill="#dc2a1c"/>
<rect x="475.75" y="35.06" width="31.80" height="8.11" fill="#741814"/>
<rect x="507.50" y="35.06" width="31.80" height="8.11" fill="#020604"/>
<rect x="539.25" y="35.06" width="31.80" height="8.11" fill="#301210"/>
<rect x="317.00" y="43.12" width="31.80" height="8.11" fill="#18a030"/>
<rect x="348.75" y="43.12" width="31.80" height="8.11" fill="#1c0808"/>
<rect x="380.50" y="43.12" width="31.80" height="8.11" fill="#182e1c"/>
<rect x="412.25" y="43.12" width="31.80" height="8.11" fill="#18a02e"/>
<rect x="444.00" y="43.12" width="31.80" height="8.11" fill="#dc2a1c"/>
<rect x="475.75" y="43.12" width="31.80" height="8.11" fill="#000000"/>
<rect x="507.50" y="43.12" width="31.80" height="8.11" fill="#000000"/>
<rect x="539.25" y="43.12" width="31.80" height="8.11" fill="#241010"/>
<rect x="317.00" y="51.18" width="31.80" height="8.11" fill="#0a1a12"/>
<rect x="348.75" y="51.18" width="31.80" height="8.11" fill="#11251a"/>
<rect x="380.50" y="51.18" width="31.80" height="8.11" fill="#1c4e22"/>
<rect x="412.25" y="51.18" width="31.80" height="8.11" fill="#1e3e1e"/>
<rect x="444.00" y="51.18" width="31.80" height="8.11" fill="#dc2a1c"/>
<rect x="475.75" y="51.18" width="31.80" height="8.11" fill="#182c1e"/>
<rect x="507.50" y="51.18" width="31.80" height="8.11" fill="#000000"/>
<rect x="539.25" y="51.18" width="31.80" height="8.11" fill="#221010"/>
<rect x="317.00" y="59.24" width="31.80" height="8.11" fill="#000000"/>
<rect x="348.75" y="59.24" width="31.80" height="8.11" fill="#1c4a20"/>
<rect x="380.50" y="59.24" width="31.80" height="8.11" fill="#17642a"/>
<rect x="412.25" y="59.24" width="31.80" height="8.11" fill="#186228"/>
<rect x="444.00" y="59.24" width="31.80" height="8.11" fill="#dc2a1c"/>
<rect x="475.75" y="59.24" width="31.80" height="8.11" fill="#0e1e16"/>
<rect x="507.50" y="59.24" width="31.80" height="8.11" fill="#000000"/>
<rect x="539.25" y="59.24" width="31.80" height="8.11" fill="#7a1c18"/>
<rect x="317.00" y="67.30" width="31.80" height="8.11" fill="#1c4e20"/>
<rect x="348.75" y="67.30" width="31.80" height="8.11" fill="#1a8436"/>
<rect x="380.50" y="67.30" width="31.80" height="8.11" fill="#177636"/>
<rect x="412.25" y="67.30" width="31.80" height="8.11" fill="#0a1812"/>
<rect x="444.00" y="67.30" width="31.80" height="8.11" fill="#6e1814"/>
<rect x="475.75" y="67.30" width="31.80" height="8.11" fill="#e02c1c"/>
<rect x="507.50" y="67.30" width="31.80" height="8.11" fill="#000000"/>
<rect x="539.25" y="67.30" width="31.80" height="8.11" fill="#000000"/>
<rect x="317.00" y="75.36" width="31.80" height="8.11" fill="#1c0808"/>
<rect x="348.75" y="75.36" width="31.80" height="8.11" fill="#2ab81e"/>
<rect x="380.50" y="75.36" width="31.80" height="8.11" fill="#1c9a38"/>
<rect x="412.25" y="75.36" width="31.80" height="8.11" fill="#1a5e2a"/>
<rect x="444.00" y="75.36" width="31.80" height="8.11" fill="#100404"/>
<rect x="475.75" y="75.36" width="31.80" height="8.11" fill="#a8241c"/>
<rect x="507.50" y="75.36" width="31.80" height="8.11" fill="#741a18"/>
<rect x="539.25" y="75.36" width="31.80" height="8.11" fill="#000000"/>
<rect x="317.00" y="83.42" width="31.80" height="8.11" fill="#187030"/>
<rect x="348.75" y="83.42" width="31.80" height="8.11" fill="#000000"/>
<rect x="380.50" y="83.42" width="31.80" height="8.11" fill="#16722f"/>
<rect x="412.25" y="83.42" width="31.80" height="8.11" fill="#1eb828"/>
<rect x="444.00" y="83.42" width="31.80" height="8.11" fill="#0c0404"/>
<rect x="475.75" y="83.42" width="31.80" height="8.11" fill="#a8241c"/>
<rect x="507.50" y="83.42" width="31.80" height="8.11" fill="#000000"/>
<rect x="539.25" y="83.42" width="31.80" height="8.11" fill="#a4241e"/>
<rect x="317.00" y="91.48" width="31.80" height="8.11" fill="#176a2c"/>
<rect x="348.75" y="91.48" width="31.80" height="8.11" fill="#000000"/>
<rect x="380.50" y="91.48" width="31.80" height="8.11" fill="#44c016"/>
<rect x="412.25" y="91.48" width="31.80" height="8.11" fill="#8a1c18"/>
<rect x="444.00" y="91.48" width="31.80" height="8.11" fill="#1c5022"/>
<rect x="475.75" y="91.48" width="31.80" height="8.11" fill="#000000"/>
<rect x="507.50" y="91.48" width="31.80" height="8.11" fill="#000000"/>
<rect x="539.25" y="91.48" width="31.80" height="8.11" fill="#b0261c"/>
<rect x="317.00" y="99.54" width="31.80" height="8.11" fill="#1c5022"/>
<rect x="348.75" y="99.54" width="31.80" height="8.11" fill="#163a1e"/>
<rect x="380.50" y="99.54" width="31.80" height="8.11" fill="#22b828"/>
<rect x="412.25" y="99.54" width="31.80" height="8.11" fill="#6a1816"/>
<rect x="444.00" y="99.54" width="31.80" height="8.11" fill="#1a4420"/>
<rect x="475.75" y="99.54" width="31.80" height="8.11" fill="#5a1616"/>
<rect x="507.50" y="99.54" width="31.80" height="8.11" fill="#000000"/>
<rect x="539.25" y="99.54" width="31.80" height="8.11" fill="#c0281c"/>
<rect x="317.00" y="107.60" width="31.80" height="8.11" fill="#186e2c"/>
<rect x="348.75" y="107.60" width="31.80" height="8.11" fill="#177030"/>
<rect x="380.50" y="107.60" width="31.80" height="8.11" fill="#1c5224"/>
<rect x="412.25" y="107.60" width="31.80" height="8.11" fill="#000000"/>
<rect x="444.00" y="107.60" width="31.80" height="8.11" fill="#4a1412"/>
<rect x="475.75" y="107.60" width="31.80" height="8.11" fill="#13281a"/>
<rect x="507.50" y="107.60" width="31.80" height="8.11" fill="#000000"/>
<rect x="539.25" y="107.60" width="31.80" height="8.11" fill="#e02c1c"/>
<rect x="317.00" y="115.66" width="31.80" height="8.11" fill="#176a2c"/>
<rect x="348.75" y="115.66" width="31.80" height="8.11" fill="#000000"/>
<rect x="380.50" y="115.66" width="31.80" height="8.11" fill="#187030"/>
<rect x="412.25" y="115.66" width="31.80" height="8.11" fill="#1a7e34"/>
<rect x="444.00" y="115.66" width="31.80" height="8.11" fill="#000000"/>
<rect x="475.75" y="115.66" width="31.80" height="8.11" fill="#0e2016"/>
<rect x="507.50" y="115.66" width="31.80" height="8.11" fill="#d82a1c"/>
<rect x="539.25" y="115.66" width="31.80" height="8.11" fill="#b8261c"/>
<rect x="317.00" y="123.72" width="31.80" height="8.11" fill="#000000"/>
<rect x="348.75" y="123.72" width="31.80" height="8.11" fill="#1eb030"/>
<rect x="380.50" y="123.72" width="31.80" height="8.11" fill="#000000"/>
<rect x="412.25" y="123.72" width="31.80" height="8.11" fill="#6a1816"/>
<rect x="444.00" y="123.72" width="31.80" height="8.11" fill="#dc2a1c"/>
<rect x="475.75" y="123.72" width="31.80" height="8.11" fill="#1c8a34"/>
<rect x="507.50" y="123.72" width="31.80" height="8.11" fill="#000000"/>
<rect x="539.25" y="123.72" width="31.80" height="8.11" fill="#000000"/>
<rect x="317.00" y="131.78" width="31.80" height="8.11" fill="#000000"/>
<rect x="348.75" y="131.78" width="31.80" height="8.11" fill="#5cc814"/>
<rect x="380.50" y="131.78" width="31.80" height="8.11" fill="#0e1e16"/>
<rect x="412.25" y="131.78" width="31.80" height="8.11" fill="#1c0808"/>
<rect x="444.00" y="131.78" width="31.80" height="8.11" fill="#dc2a1c"/>
<rect x="475.75" y="131.78" width="31.80" height="8.11" fill="#0c1c14"/>
<rect x="507.50" y="131.78" width="31.80" height="8.11" fill="#000000"/>
<rect x="539.25" y="131.78" width="31.80" height="8.11" fill="#000000"/>
<rect x="317.00" y="139.84" width="31.80" height="8.11" fill="#1aa030"/>
<rect x="348.75" y="139.84" width="31.80" height="8.11" fill="#1e4a20"/>
<rect x="380.50" y="139.84" width="31.80" height="8.11" fill="#000000"/>
<rect x="412.25" y="139.84" width="31.80" height="8.11" fill="#3a1212"/>
<rect x="444.00" y="139.84" width="31.80" height="8.11" fill="#d42a1c"/>
<rect x="475.75" y="139.84" width="31.80" height="8.11" fill="#1c5226"/>
<rect x="507.50" y="139.84" width="31.80" height="8.11" fill="#186a2c"/>
<rect x="539.25" y="139.84" width="31.80" height="8.11" fill="#501414"/>
<rect x="317.00" y="147.90" width="31.80" height="8.11" fill="#12241a"/>
<rect x="348.75" y="147.90" width="31.80" height="8.11" fill="#48c010"/>
<rect x="380.50" y="147.90" width="31.80" height="8.11" fill="#2a0e0e"/>
<rect x="412.25" y="147.90" width="31.80" height="8.11" fill="#5a1614"/>
<rect x="444.00" y="147.90" width="31.80" height="8.11" fill="#240c0c"/>
<rect x="475.75" y="147.90" width="31.80" height="8.11" fill="#8a1e1a"/>
<rect x="507.50" y="147.90" width="31.80" height="8.11" fill="#18a030"/>
<rect x="539.25" y="147.90" width="31.80" height="8.11" fill="#000000"/>
<rect x="317.00" y="155.96" width="31.80" height="8.11" fill="#187030"/>
<rect x="348.75" y="155.96" width="31.80" height="8.11" fill="#50c010"/>
<rect x="380.50" y="155.96" width="31.80" height="8.11" fill="#801c18"/>
<rect x="412.25" y="155.96" width="31.80" height="8.11" fill="#2c1010"/>
<rect x="444.00" y="155.96" width="31.80" height="8.11" fill="#140606"/>
<rect x="475.75" y="155.96" width="31.80" height="8.11" fill="#6a1816"/>
<rect x="507.50" y="155.96" width="31.80" height="8.11" fill="#1c5024"/>
<rect x="539.25" y="155.96" width="31.80" height="8.11" fill="#3a1212"/>
<rect x="317.00" y="164.02" width="31.80" height="8.11" fill="#1eb828"/>
<rect x="348.75" y="164.02" width="31.80" height="8.11" fill="#4cc012"/>
<rect x="380.50" y="164.02" width="31.80" height="8.11" fill="#6a1816"/>
<rect x="412.25" y="164.02" width="31.80" height="8.11" fill="#2a0e0e"/>
<rect x="444.00" y="164.02" width="31.80" height="8.11" fill="#040e0a"/>
<rect x="475.75" y="164.02" width="31.80" height="8.11" fill="#801c18"/>
<rect x="507.50" y="164.02" width="31.80" height="8.11" fill="#000000"/>
<rect x="539.25" y="164.02" width="31.80" height="8.11" fill="#5a1614"/>
<rect x="317.00" y="172.08" width="31.80" height="8.11" fill="#28b822"/>
<rect x="348.75" y="172.08" width="31.80" height="8.11" fill="#30bc1e"/>
<rect x="380.50" y="172.08" width="31.80" height="8.11" fill="#000000"/>
<rect x="412.25" y="172.08" width="31.80" height="8.11" fill="#162e1c"/>
<rect x="444.00" y="172.08" width="31.80" height="8.11" fill="#100404"/>
<rect x="475.75" y="172.08" width="31.80" height="8.11" fill="#8a1e1a"/>
<rect x="507.50" y="172.08" width="31.80" height="8.11" fill="#000000"/>
<rect x="539.25" y="172.08" width="31.80" height="8.11" fill="#c4281c"/>
<rect x="317.00" y="180.14" width="31.80" height="8.11" fill="#6ccc10"/>
<rect x="348.75" y="180.14" width="31.80" height="8.11" fill="#000000"/>
<rect x="380.50" y="180.14" width="31.80" height="8.11" fill="#000000"/>
<rect x="412.25" y="180.14" width="31.80" height="8.11" fill="#000000"/>
<rect x="444.00" y="180.14" width="31.80" height="8.11" fill="#8a1e1a"/>
<rect x="475.75" y="180.14" width="31.80" height="8.11" fill="#7a1c18"/>
<rect x="507.50" y="180.14" width="31.80" height="8.11" fill="#000000"/>
<rect x="539.25" y="180.14" width="31.80" height="8.11" fill="#000000"/>
<rect x="317.00" y="188.20" width="31.80" height="8.11" fill="#68c810"/>
<rect x="348.75" y="188.20" width="31.80" height="8.11" fill="#1a8a30"/>
<rect x="380.50" y="188.20" width="31.80" height="8.11" fill="#000000"/>
<rect x="412.25" y="188.20" width="31.80" height="8.11" fill="#3a1212"/>
<rect x="444.00" y="188.20" width="31.80" height="8.11" fill="#000000"/>
<rect x="475.75" y="188.20" width="31.80" height="8.11" fill="#040a08"/>
<rect x="507.50" y="188.20" width="31.80" height="8.11" fill="#c4281c"/>
<rect x="539.25" y="188.20" width="31.80" height="8.11" fill="#000000"/>
<rect x="317.00" y="196.26" width="31.80" height="8.11" fill="#000000"/>
<rect x="348.75" y="196.26" width="31.80" height="8.11" fill="#5a1614"/>
<rect x="380.50" y="196.26" width="31.80" height="8.11" fill="#1c5226"/>
<rect x="412.25" y="196.26" width="31.80" height="8.11" fill="#1a6a2c"/>
<rect x="444.00" y="196.26" width="31.80" height="8.11" fill="#dc2a1c"/>
<rect x="475.75" y="196.26" width="31.80" height="8.11" fill="#1eb030"/>
<rect x="507.50" y="196.26" width="31.80" height="8.11" fill="#1c0808"/>
<rect x="539.25" y="196.26" width="31.80" height="8.11" fill="#0c1a14"/>
<rect x="317.00" y="204.32" width="31.80" height="8.11" fill="#5a1614"/>
<rect x="348.75" y="204.32" width="31.80" height="8.11" fill="#000000"/>
<rect x="380.50" y="204.32" width="31.80" height="8.11" fill="#1a9a30"/>
<rect x="412.25" y="204.32" width="31.80" height="8.11" fill="#1a9a30"/>
<rect x="444.00" y="204.32" width="31.80" height="8.11" fill="#3a1010"/>
<rect x="475.75" y="204.32" width="31.80" height="8.11" fill="#1c5224"/>
<rect x="507.50" y="204.32" width="31.80" height="8.11" fill="#000000"/>
<rect x="539.25" y="204.32" width="31.80" height="8.11" fill="#b8261c"/>
<rect x="317.00" y="212.38" width="31.80" height="8.11" fill="#501414"/>
<rect x="348.75" y="212.38" width="31.80" height="8.11" fill="#801c18"/>
<rect x="380.50" y="212.38" width="31.80" height="8.11" fill="#1a8234"/>
<rect x="412.25" y="212.38" width="31.80" height="8.11" fill="#1a8a30"/>
<rect x="444.00" y="212.38" width="31.80" height="8.11" fill="#1c5a26"/>
<rect x="475.75" y="212.38" width="31.80" height="8.11" fill="#1c4a22"/>
<rect x="507.50" y="212.38" width="31.80" height="8.11" fill="#020806"/>
<rect x="539.25" y="212.38" width="31.80" height="8.11" fill="#b8261c"/>
<rect x="317.00" y="220.44" width="31.80" height="8.11" fill="#000000"/>
<rect x="348.75" y="220.44" width="31.80" height="8.11" fill="#b8261c"/>
<rect x="380.50" y="220.44" width="31.80" height="8.11" fill="#187a34"/>
<rect x="412.25" y="220.44" width="31.80" height="8.11" fill="#8a1e1a"/>
<rect x="444.00" y="220.44" width="31.80" height="8.11" fill="#4cc012"/>
<rect x="475.75" y="220.44" width="31.80" height="8.11" fill="#12241a"/>
<rect x="507.50" y="220.44" width="31.80" height="8.11" fill="#000000"/>
<rect x="539.25" y="220.44" width="31.80" height="8.11" fill="#000000"/>
<rect x="317.00" y="228.50" width="31.80" height="8.11" fill="#a8241c"/>
<rect x="348.75" y="228.50" width="31.80" height="8.11" fill="#b0261c"/>
<rect x="380.50" y="228.50" width="31.80" height="8.11" fill="#000000"/>
<rect x="412.25" y="228.50" width="31.80" height="8.11" fill="#100404"/>
<rect x="444.00" y="228.50" width="31.80" height="8.11" fill="#2ab81e"/>
<rect x="475.75" y="228.50" width="31.80" height="8.11" fill="#1aa030"/>
<rect x="507.50" y="228.50" width="31.80" height="8.11" fill="#000000"/>
<rect x="539.25" y="228.50" width="31.80" height="8.11" fill="#162e1c"/>
<rect x="317.00" y="236.56" width="31.80" height="8.11" fill="#000000"/>
<rect x="348.75" y="236.56" width="31.80" height="8.11" fill="#2c1010"/>
<rect x="380.50" y="236.56" width="31.80" height="8.11" fill="#b0261c"/>
<rect x="412.25" y="236.56" width="31.80" height="8.11" fill="#8a1e1a"/>
<rect x="444.00" y="236.56" width="31.80" height="8.11" fill="#1a8434"/>
<rect x="475.75" y="236.56" width="31.80" height="8.11" fill="#1eb028"/>
<rect x="507.50" y="236.56" width="31.80" height="8.11" fill="#000000"/>
<rect x="539.25" y="236.56" width="31.80" height="8.11" fill="#1c5a26"/>
<rect x="317.00" y="244.62" width="31.80" height="8.11" fill="#2c0e0e"/>
<rect x="348.75" y="244.62" width="31.80" height="8.11" fill="#200a0a"/>
<rect x="380.50" y="244.62" width="31.80" height="8.11" fill="#6a1816"/>
<rect x="412.25" y="244.62" width="31.80" height="8.11" fill="#2a0e0e"/>
<rect x="444.00" y="244.62" width="31.80" height="8.11" fill="#000000"/>
<rect x="475.75" y="244.62" width="31.80" height="8.11" fill="#6cc810"/>
<rect x="507.50" y="244.62" width="31.80" height="8.11" fill="#000000"/>
<rect x="539.25" y="244.62" width="31.80" height="8.11" fill="#000000"/>
<rect x="317.00" y="252.68" width="31.80" height="8.11" fill="#2a0e0e"/>
<rect x="348.75" y="252.68" width="31.80" height="8.11" fill="#240c0c"/>
<rect x="380.50" y="252.68" width="31.80" height="8.11" fill="#200a0a"/>
<rect x="412.25" y="252.68" width="31.80" height="8.11" fill="#b0261c"/>
<rect x="444.00" y="252.68" width="31.80" height="8.11" fill="#000000"/>
<rect x="475.75" y="252.68" width="31.80" height="8.11" fill="#1a9a30"/>
<rect x="507.50" y="252.68" width="31.80" height="8.11" fill="#1a9030"/>
<rect x="539.25" y="252.68" width="31.80" height="8.11" fill="#1a8434"/>
<rect x="317.00" y="260.74" width="31.80" height="8.11" fill="#1a8a30"/>
<rect x="348.75" y="260.74" width="31.80" height="8.11" fill="#501414"/>
<rect x="380.50" y="260.74" width="31.80" height="8.11" fill="#000000"/>
<rect x="412.25" y="260.74" width="31.80" height="8.11" fill="#4a1414"/>
<rect x="444.00" y="260.74" width="31.80" height="8.11" fill="#50c012"/>
<rect x="475.75" y="260.74" width="31.80" height="8.11" fill="#5a1614"/>
<rect x="507.50" y="260.74" width="31.80" height="8.11" fill="#801c18"/>
<rect x="539.25" y="260.74" width="31.80" height="8.11" fill="#1c5a26"/>
<rect x="317.00" y="268.80" width="31.80" height="8.11" fill="#22b828"/>
<rect x="348.75" y="268.80" width="31.80" height="8.11" fill="#4a1414"/>
<rect x="380.50" y="268.80" width="31.80" height="8.11" fill="#0a1812"/>
<rect x="412.25" y="268.80" width="31.80" height="8.11" fill="#4a1414"/>
<rect x="444.00" y="268.80" width="31.80" height="8.11" fill="#1a8a34"/>
<rect x="475.75" y="268.80" width="31.80" height="8.11" fill="#1c5224"/>
<rect x="507.50" y="268.80" width="31.80" height="8.11" fill="#d0281c"/>
<rect x="539.25" y="268.80" width="31.80" height="8.11" fill="#000000"/>
<rect x="317.00" y="276.86" width="31.80" height="8.11" fill="#000000"/>
<rect x="348.75" y="276.86" width="31.80" height="8.11" fill="#000000"/>
<rect x="380.50" y="276.86" width="31.80" height="8.11" fill="#1c0808"/>
<rect x="412.25" y="276.86" width="31.80" height="8.11" fill="#186a2c"/>
<rect x="444.00" y="276.86" width="31.80" height="8.11" fill="#2ab81e"/>
<rect x="475.75" y="276.86" width="31.80" height="8.11" fill="#1c5224"/>
<rect x="507.50" y="276.86" width="31.80" height="8.11" fill="#d0281c"/>
<rect x="539.25" y="276.86" width="31.80" height="8.11" fill="#501414"/>
<rect x="317.00" y="284.92" width="31.80" height="8.11" fill="#2a0e0e"/>
<rect x="348.75" y="284.92" width="31.80" height="8.11" fill="#187a30"/>
<rect x="380.50" y="284.92" width="31.80" height="8.11" fill="#5a1614"/>
<rect x="412.25" y="284.92" width="31.80" height="8.11" fill="#2a0e0e"/>
<rect x="444.00" y="284.92" width="31.80" height="8.11" fill="#1c5a26"/>
<rect x="475.75" y="284.92" width="31.80" height="8.11" fill="#1c5224"/>
<rect x="507.50" y="284.92" width="31.80" height="8.11" fill="#b8261c"/>
<rect x="539.25" y="284.92" width="31.80" height="8.11" fill="#1eb028"/>
</g>
<rect x="317.0" y="294.7" width="127.0" height="7.5" fill="#2b55b4"/>
<rect x="444.0" y="294.7" width="127.0" height="7.5" fill="#7e3fbe"/>
<g font-size="6.2" fill="#111" text-anchor="middle">
<text x="332.88" y="307.8">SKMEL5</text>
<text x="364.62" y="307.8">WM35</text>
<text x="396.38" y="307.8">A375</text>
<text x="428.12" y="307.8">A2058</text>
<text x="459.88" y="307.8">WM1552</text>
<text x="491.62" y="307.8">1205LU</text>
<text x="523.38" y="307.8">WM1617</text>
<text x="555.12" y="307.8">WM278</text>
</g>
<g stroke="#000" stroke-width="1.3" fill="none">
<path d="M316.9 311.4V320.2H440V311.4"/>
<path d="M444.6 311.4V320.2H568.2V311.4"/>
</g>
<text x="382.9" y="340" font-size="12.3" font-weight="bold" text-anchor="middle" fill="#111">TFAM-Up</text>
<text x="504.8" y="340" font-size="12.3" font-weight="bold" text-anchor="middle" fill="#111">TFAM-Down</text>
<g font-size="6.2" fill="#000">
<rect x="574.1" y="28.50" width="5.6" height="5.5" fill="#8e8c52"/>
<text x="582.4" y="33.50">LOX</text>
<rect x="574.1" y="36.56" width="5.6" height="5.5" fill="#ece84e"/>
<text x="582.4" y="41.56">SERPINE1</text>
<rect x="574.1" y="44.62" width="5.6" height="5.5" fill="#ee7f7f"/>
<text x="582.4" y="49.62">CCND1</text>
<rect x="574.1" y="52.68" width="5.6" height="5.5" fill="#ece84e"/>
<text x="582.4" y="57.68">VEGFA</text>
<rect x="574.1" y="60.74" width="5.6" height="5.5" fill="#8e8c52"/>
<text x="582.4" y="65.74">CXCL12</text>
<rect x="574.1" y="68.80" width="5.6" height="5.5" fill="#8e8c52"/>
<text x="582.4" y="73.80">CTGF</text>
<rect x="574.1" y="76.86" width="5.6" height="5.5" fill="#ee7f7f"/>
<text x="582.4" y="81.86">IGFBP2</text>
<rect x="574.1" y="84.92" width="5.6" height="5.5" fill="#ece84e"/>
<text x="582.4" y="89.92">PDGFA</text>
<rect x="574.1" y="92.98" width="5.6" height="5.5" fill="#56659f"/>
<text x="582.4" y="97.98">PFKL</text>
<rect x="574.1" y="101.04" width="5.6" height="5.5" fill="#ece84e"/>
<text x="582.4" y="106.04">MMP9</text>
<rect x="574.1" y="109.10" width="5.6" height="5.5" fill="#ece84e"/>
<text x="582.4" y="114.10">PDGFB</text>
<rect x="574.1" y="117.16" width="5.6" height="5.5" fill="#ece84e"/>
<text x="582.4" y="122.16">ANGPT2</text>
<rect x="574.1" y="125.22" width="5.6" height="5.5" fill="#ece84e"/>
<text x="582.4" y="130.22">ANGPT1</text>
<rect x="574.1" y="133.28" width="5.6" height="5.5" fill="#ece84e"/>
<text x="582.4" y="138.28">VEGFC</text>
<rect x="574.1" y="141.34" width="5.6" height="5.5" fill="#56659f"/>
<text x="582.4" y="146.34">SLC2A1</text>
<rect x="574.1" y="149.40" width="5.6" height="5.5" fill="#ece84e"/>
<text x="582.4" y="154.40">MMP2</text>
<rect x="574.1" y="157.46" width="5.6" height="5.5" fill="#ee7f7f"/>
<text x="582.4" y="162.46">TGFA</text>
<rect x="574.1" y="165.52" width="5.6" height="5.5" fill="#ece84e"/>
<text x="582.4" y="170.52">FLT1</text>
<rect x="574.1" y="173.58" width="5.6" height="5.5" fill="#ece84e"/>
<text x="582.4" y="178.58">TEK</text>
<rect x="574.1" y="181.64" width="5.6" height="5.5" fill="#8e8c52"/>
<text x="582.4" y="186.64">PLAUR</text>
<rect x="574.1" y="189.70" width="5.6" height="5.5" fill="#56659f"/>
<text x="582.4" y="194.70">PDK1</text>
<rect x="574.1" y="197.76" width="5.6" height="5.5" fill="#56659f"/>
<text x="582.4" y="202.76">SLC2A3</text>
<rect x="574.1" y="205.82" width="5.6" height="5.5" fill="#8e8c52"/>
<text x="582.4" y="210.82">CXCR4</text>
<rect x="574.1" y="213.88" width="5.6" height="5.5" fill="#8e8c52"/>
<text x="582.4" y="218.88">CDH1</text>
<rect x="574.1" y="221.94" width="5.6" height="5.5" fill="#ece84e"/>
<text x="582.4" y="226.94">VEGFB</text>
<rect x="574.1" y="230.00" width="5.6" height="5.5" fill="#56659f"/>
<text x="582.4" y="235.00">MXI1</text>
<rect x="574.1" y="238.06" width="5.6" height="5.5" fill="#56659f"/>
<text x="582.4" y="243.06">ENO1</text>
<rect x="574.1" y="246.12" width="5.6" height="5.5" fill="#56659f"/>
<text x="582.4" y="251.12">HK2</text>
<rect x="574.1" y="254.18" width="5.6" height="5.5" fill="#56659f"/>
<text x="582.4" y="259.18">LDHA</text>
<rect x="574.1" y="262.24" width="5.6" height="5.5" fill="#56659f"/>
<text x="582.4" y="267.24">HK1</text>
<rect x="574.1" y="270.30" width="5.6" height="5.5" fill="#56659f"/>
<text x="582.4" y="275.30">ALDOA</text>
<rect x="574.1" y="278.36" width="5.6" height="5.5" fill="#ece84e"/>
<text x="582.4" y="283.36">KDR</text>
<rect x="574.1" y="286.42" width="5.6" height="5.5" fill="#56659f"/>
<text x="582.4" y="291.42">PGK1</text>
</g>
<g stroke="#000" stroke-width="1.1" fill="none" stroke-linejoin="miter">
<path d="M332.9 26.4V18H364.6V26.4"/>
<path d="M396.4 26.4V19.4H428.1V26.4"/>
<path d="M348.8 18V16.1H412.2V19.4"/>
<path d="M523.4 26.4V17.8H555.1V26.4"/>
<path d="M491.6 26.4V15.9H539.2V17.8"/>
<path d="M459.9 26.4V13.9H515.4V15.9"/>
<path d="M380.5 16.1V11.85H487.7V13.9"/>
</g>
<path d="M317.2 31.0H315.7V39.1H317.2M315.7 35.1H314.9V47.2H317.2M317.2 55.2H315.9V63.3H317.2M314.9 41.1H314.1V59.2H315.9M317.2 71.3H313.7V79.4H317.2M313.7 75.4H312.6V87.5H317.2M314.1 50.2H310.6V81.4H312.6M317.2 95.5H315.5V103.6H317.2M317.2 111.6H313.7V119.7H317.2M315.5 99.5H311.4V115.7H313.7M310.6 65.8H308.7V107.6H311.4M317.2 127.8H315.2V135.8H317.2M315.2 131.8H313.7V143.9H317.2M317.2 151.9H315.2V160.0H317.2M313.7 137.8H312.0V156.0H315.2M317.2 168.1H315.5V176.1H317.2M315.5 172.1H313.7V184.2H317.2M313.7 178.1H312.6V192.2H317.2M312.0 146.9H309.7V185.2H312.6M308.7 86.7H306.2V166.0H309.7M317.2 208.4H313.7V216.4H317.2M317.2 200.3H310.5V212.4H313.7M306.2 126.4H304.4V206.3H310.5M317.2 224.5H313.7V232.5H317.2M317.2 240.6H315.2V248.7H317.2M315.2 244.6H313.7V256.7H317.2M313.7 228.5H310.5V250.7H313.7M317.2 264.8H313.7V272.8H317.2M317.2 280.9H311.6V288.9H317.2M313.7 268.8H310.5V284.9H311.6M310.5 239.6H305.6V276.9H310.5M304.4 166.3H302.7V258.2H305.6" stroke="#000" stroke-width="1.05" fill="none"/>
<g stroke="#e8322c" stroke-width="1.4" fill="none" stroke-dasharray="3.7 1.55">
<rect x="299.6" y="25.4" width="315.9" height="98.0"/>
<rect x="298.8" y="229.1" width="316.4" height="32.6"/>
</g>
<text x="623.6" y="80.4" font-size="13.4" font-weight="bold" fill="#111">Cluster I</text>
<text x="623.6" y="249.9" font-size="13.4" font-weight="bold" fill="#111">Cluster II</text>
<g font-size="5.35" fill="#111">
<text x="640.2" y="120.9" font-weight="bold">Row Z-Score</text>
<rect x="641" y="123.80" width="4.8" height="4.8" fill="#e02a1c"/>
<text x="647.6" y="127.80">2</text>
<rect x="641" y="129.92" width="4.8" height="4.8" fill="#5a1212"/>
<text x="647.6" y="133.92">1</text>
<rect x="641" y="136.04" width="4.8" height="4.8" fill="#000"/>
<text x="647.6" y="140.04">0</text>
<rect x="641" y="142.16" width="4.8" height="4.8" fill="#157a33"/>
<text x="647.6" y="146.16">−1</text>
<rect x="641" y="148.28" width="4.8" height="4.8" fill="#5ec812"/>
<text x="647.6" y="152.28">−2</text>
<text x="640.2" y="162.5" font-weight="bold">TFAM Expression</text>
<rect x="641" y="165.70" width="4.8" height="4.8" fill="#7e3fbe"/>
<text x="647.6" y="169.70">TFAM_Down</text>
<rect x="641" y="172.20" width="4.8" height="4.8" fill="#2b55b4"/>
<text x="647.6" y="176.20">TFAM_UP</text>
<text x="640.2" y="186.5" font-weight="bold">Tumorigenesis</text>
<rect x="641" y="189.20" width="4.8" height="4.8" fill="#ece84e"/>
<text x="647.6" y="193.20">Angiogenesis</text>
<rect x="641" y="195.70" width="4.8" height="4.8" fill="#8e8c52"/>
<text x="647.6" y="199.70">Invasion</text>
<rect x="641" y="202.20" width="4.8" height="4.8" fill="#56659f"/>
<text x="647.6" y="206.20">Metabolism</text>
<rect x="641" y="208.70" width="4.8" height="4.8" fill="#ee7f7f"/>
<text x="647.6" y="212.70">Proliferation</text>
</g>
</svg>
</body></html>
